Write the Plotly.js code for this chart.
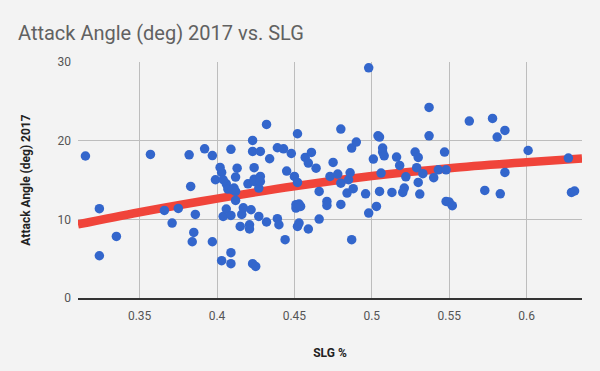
<!DOCTYPE html>
<html>
<head>
<meta charset="utf-8">
<script src="https://cdn.plot.ly/plotly-3.0.1.min.js"></script>
<style>
html,body{margin:0;padding:0;background:#f3f3f3;}
#chart{width:600px;height:371px;}
</style>
</head>
<body>
<div id="chart"></div>
<script>
// SLG % (x) and Attack Angle (deg) 2017 (y)
const slg = [
0.315,0.324,0.335,0.324,0.357,0.366,0.375,0.371,0.383,0.382,
0.386,0.385,0.384,0.392,0.397,0.397,0.399,0.402,0.403,0.403,
0.404,0.406,0.406,0.407,0.409,0.409,0.409,0.409,0.411,0.412,
0.412,0.413,0.415,0.416,0.417,0.420,0.421,0.421,0.422,0.423,
0.423,0.423,0.424,0.424,0.424,0.425,0.427,0.427,0.428,0.428,
0.428,0.432,0.432,0.434,0.439,0.439,0.440,0.443,0.444,0.445,
0.448,0.450,0.451,0.451,0.452,0.452,0.452,0.453,0.453,0.454,
0.457,0.459,0.459,0.461,0.464,0.466,0.466,0.471,0.471,0.473,
0.475,0.478,0.480,0.480,0.480,0.484,0.485,0.486,0.487,0.487,
0.488,0.490,0.496,0.498,0.498,0.501,0.503,0.504,0.505,0.505,
0.506,0.507,0.507,0.508,0.513,0.516,0.518,0.520,0.521,0.522,
0.528,0.530,0.529,0.530,0.531,0.533,0.537,0.537,0.540,0.543,
0.547,0.548,0.548,0.550,0.552,0.563,0.573,0.578,0.581,0.583,
0.586,0.586,0.601,0.627,0.629,0.631,0.404,0.410,0.412
];
const attackAngle = [
18.05,11.35,7.83,5.37,18.25,11.13,11.39,9.53,14.18,18.2,
10.62,8.34,7.15,18.97,18.1,7.15,15.03,16.6,15.96,4.74,
10.37,14.52,11.3,13.85,18.9,10.5,5.76,4.36,13.97,15.37,
12.4,16.5,9.1,10.62,11.47,14.52,9.31,8.77,11.22,20.03,
18.63,4.36,16.56,15.1,14.82,4.02,10.37,13.97,18.63,15.45,
14.82,22.06,9.66,17.7,19.1,10.08,9.31,18.97,7.41,16.14,
18.37,15.45,11.86,11.43,20.88,14.69,9.1,11.94,9.53,11.64,
17.87,17.15,8.77,18.5,16.5,13.55,10.04,12.27,11.77,15.45,
17.23,15.76,21.47,14.6,11.9,13.34,15.03,15.92,19.06,7.41,
13.89,19.82,13.25,29.26,10.8,17.66,11.64,20.62,20.46,13.55,
15.88,19.06,18.55,18.08,13.42,17.92,16.85,13.42,13.97,15.41,
18.55,17.87,16.56,14.69,13.21,15.8,24.22,20.62,15.29,16.3,
18.55,16.3,12.27,12.2,11.73,22.49,13.67,22.82,20.46,13.25,
21.3,15.96,18.75,17.79,13.42,13.6,15.03,13.76,13.55
];
// trendline
const trendX = [0.3102, 0.35, 0.39, 0.45, 0.5, 0.55, 0.6, 0.6358];
const trendY = [9.35, 10.9, 12.3, 14.2, 15.5, 16.5, 17.25, 17.75];

const xTicks = [0.35, 0.4, 0.45, 0.5, 0.55, 0.6];
const xTickText = ['0.35', '0.4', '0.45', '0.5', '0.55', '0.6'];
const yTicks = [0, 10, 20, 30];
const yTickText = ['0', '10', '20', '30'];

const traces = [
  {
    x: trendX, y: trendY, type: 'scatter', mode: 'lines',
    line: {color: '#f0443a', width: 8.5, shape: 'spline'},
    hoverinfo: 'skip', showlegend: false
  },
  {
    x: slg, y: attackAngle, type: 'scatter', mode: 'markers',
    marker: {color: '#3366cc', size: 9.5, line: {width: 0}},
    showlegend: false
  }
];

const layout = {
  width: 600, height: 371,
  paper_bgcolor: '#f3f3f3', plot_bgcolor: '#f3f3f3',
  margin: {l: 78, r: 18, t: 62, b: 73},
  font: {family: 'Roboto, sans-serif', color: '#444'},
  title: {
    text: 'Attack Angle (deg) 2017 vs. SLG',
    font: {family: 'Roboto, sans-serif', size: 20, color: '#616161'},
    x: 0.03, xref: 'container', xanchor: 'left',
    y: 0.912, yref: 'container', yanchor: 'middle'
  },
  xaxis: {
    range: [0.3102, 0.6358],
    tickvals: xTicks, ticktext: xTickText,
    showgrid: true, gridcolor: '#bdbdbd', gridwidth: 1,
    zeroline: false,
    showline: true, linecolor: '#333', linewidth: 1.5,
    ticks: '', ticklabelstandoff: 6,
    tickfont: {family: 'Roboto, sans-serif', size: 12, color: '#555'},
    title: {text: 'SLG %', standoff: 26,
            font: {family: 'Roboto, sans-serif', size: 12, color: '#222', weight: 'bold'}}
  },
  yaxis: {
    range: [0, 30],
    tickvals: yTicks, ticktext: yTickText,
    showgrid: true, gridcolor: '#bdbdbd', gridwidth: 1,
    zeroline: false, showline: false,
    ticks: '', ticklabelstandoff: 6,
    tickfont: {family: 'Roboto, sans-serif', size: 12, color: '#555'},
    title: {text: 'Attack Angle (deg) 2017', standoff: 24,
            font: {family: 'Roboto, sans-serif', size: 12, color: '#222', weight: 'bold'}}
  }
};

Plotly.newPlot('chart', traces, layout, {displayModeBar: false, staticPlot: true});
</script>
</body>
</html>
